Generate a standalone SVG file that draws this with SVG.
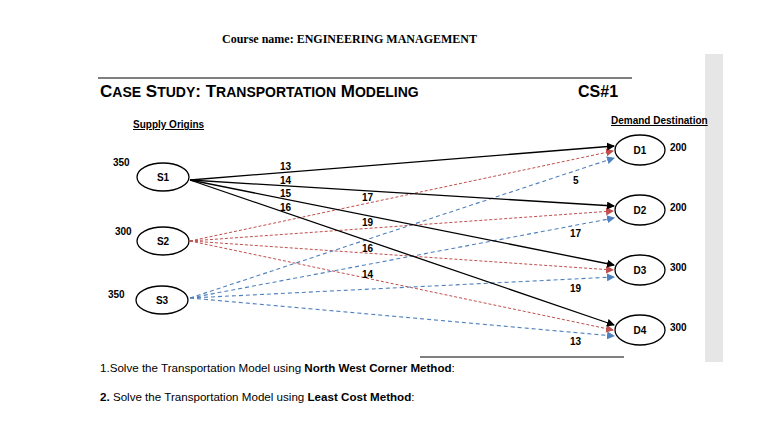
<svg xmlns="http://www.w3.org/2000/svg" width="769" height="443" viewBox="0 0 769 443">
<style>
text{font-family:"Liberation Sans",Arial,sans-serif;fill:#000}
.n{font-size:10px;font-weight:bold}
ellipse{fill:#fff;stroke:#000;stroke-width:1.3}
.k{stroke:#000;stroke-width:1.3;fill:none;marker-end:url(#ak)}
.r{stroke:#c0504d;stroke-width:1;stroke-dasharray:3,2;fill:none;marker-end:url(#ar)}
.b{stroke:#4f81bd;stroke-width:1.1;stroke-dasharray:4,3;fill:none;marker-end:url(#ab)}
</style>
<defs>
<marker id="ak" markerWidth="8" markerHeight="8" refX="7" refY="4" orient="auto" markerUnits="userSpaceOnUse"><path d="M0,0L8,4L0,8z" fill="#000"/></marker>
<marker id="ar" markerWidth="8" markerHeight="8" refX="7" refY="4" orient="auto" markerUnits="userSpaceOnUse"><path d="M0,0L8,4L0,8z" fill="#c0504d"/></marker>
<marker id="ab" markerWidth="8" markerHeight="8" refX="7" refY="4" orient="auto" markerUnits="userSpaceOnUse"><path d="M0,0L8,4L0,8z" fill="#4f81bd"/></marker>
</defs>
<rect width="769" height="443" fill="#fff"/>
<rect x="705" y="54" width="18" height="308" fill="#e6e6e6"/>
<text x="222" y="43" style="font-family:'Liberation Serif',serif;font-size:12px;font-weight:bold">Course name: ENGINEERING MANAGEMENT</text>
<line x1="98" y1="78" x2="632" y2="78" stroke="#000" stroke-width="1"/>
<text x="100" y="97" style="font-size:17px;font-weight:bold">C<tspan font-size="14">ASE</tspan> S<tspan font-size="14">TUDY</tspan>: T<tspan font-size="14">RANSPORTATION</tspan> M<tspan font-size="14">ODELING</tspan></text>
<text x="578" y="97" style="font-size:16px;font-weight:bold">CS#1</text>
<text x="133" y="128" class="n" text-decoration="underline">Supply Origins</text>
<text x="611" y="124" class="n" text-decoration="underline">Demand Destination</text>
<g id="connectors">
<path class="r" d="M190,241L613,151"/><path class="r" d="M190,241L613,211"/><path class="r" d="M190,241L613,270"/><path class="r" d="M190,241L613,330"/>
<path class="b" d="M190,298L614,158"/><path class="b" d="M190,298L614,218"/><path class="b" d="M190,298L614,277"/><path class="b" d="M190,298L614,336"/>
<path class="k" d="M190,180L614,146"/><path class="k" d="M190,180L614,206"/><path class="k" d="M190,180L614,265"/><path class="k" d="M190,180L614,325"/>
<g>
<text x="280" y="170" class="n">13</text><text x="280" y="184" class="n">14</text><text x="280" y="197" class="n">15</text><text x="280" y="211" class="n">16</text>
<text x="362" y="201" class="n">17</text><text x="362" y="226" class="n">19</text><text x="362" y="252" class="n">16</text><text x="362" y="278" class="n">14</text>
<text x="573" y="184" class="n">5</text><text x="570" y="237" class="n">17</text><text x="570" y="292" class="n">19</text><text x="570" y="345" class="n">13</text>
</g>
</g>
<g id="S1"><ellipse cx="163" cy="177" rx="26" ry="14"/><text x="163" y="181" class="n" text-anchor="middle">S1</text><text x="113" y="166" class="n">350</text></g>
<g id="S2"><ellipse cx="163" cy="241" rx="26" ry="14"/><text x="163" y="245" class="n" text-anchor="middle">S2</text><text x="115" y="235" class="n">300</text></g>
<g id="S3"><ellipse cx="162" cy="300" rx="26" ry="14"/><text x="162" y="304" class="n" text-anchor="middle">S3</text><text x="108" y="298" class="n">350</text></g>
<g id="D1"><ellipse cx="640" cy="150" rx="25" ry="15"/><text x="640" y="154" class="n" text-anchor="middle">D1</text><text x="670" y="151" class="n">200</text></g>
<g id="D2"><ellipse cx="640" cy="210" rx="25" ry="15"/><text x="640" y="214" class="n" text-anchor="middle">D2</text><text x="670" y="211" class="n">200</text></g>
<g id="D3"><ellipse cx="640" cy="270" rx="25" ry="15"/><text x="640" y="274" class="n" text-anchor="middle">D3</text><text x="670" y="271" class="n">300</text></g>
<g id="D4"><ellipse cx="640" cy="330" rx="25" ry="15"/><text x="640" y="334" class="n" text-anchor="middle">D4</text><text x="670" y="331" class="n">300</text></g>
<line x1="420" y1="357" x2="624" y2="357" stroke="#000" stroke-width="1"/>
<text x="100" y="372" style="font-size:11.6px">1.Solve the Transportation Model using <tspan font-weight="bold">North West Corner Method</tspan>:</text>
<text x="100" y="401" style="font-size:11.6px"><tspan font-weight="bold">2.</tspan>   Solve the Transportation Model using <tspan font-weight="bold">Least Cost Method</tspan>:</text>
</svg>
